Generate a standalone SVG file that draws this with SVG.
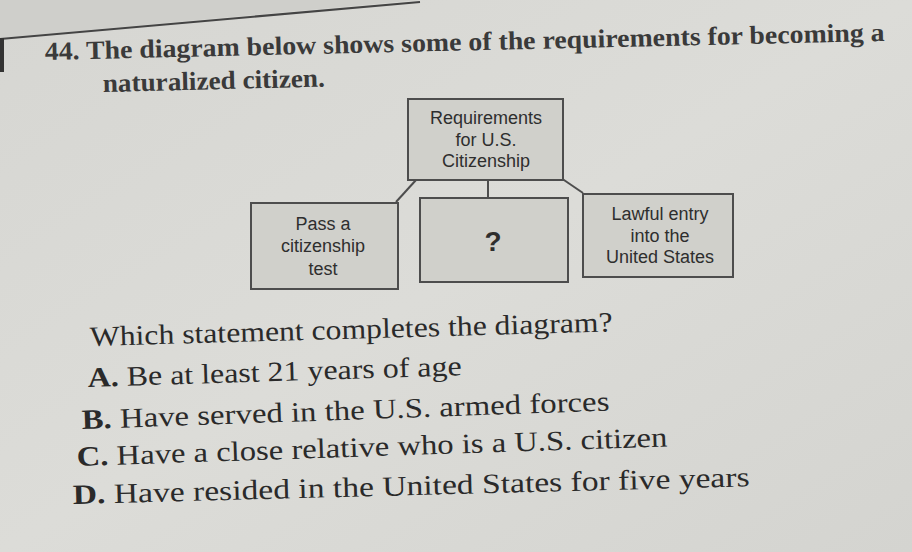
<svg xmlns="http://www.w3.org/2000/svg" width="912" height="552" viewBox="0 0 912 552">
<defs>
<linearGradient id="bg" x1="0" y1="0" x2="1" y2="1">
<stop offset="0" stop-color="#d6d6d2"/>
<stop offset="0.5" stop-color="#dcdcd8"/>
<stop offset="1" stop-color="#d4d4d0"/>
</linearGradient>
<style>
.q{font-family:"Liberation Serif","DejaVu Serif",serif;font-weight:bold;font-size:26px;fill:#3a3a3a}
.a{font-family:"Liberation Serif","DejaVu Serif",serif;font-size:28px;fill:#2a2a2a}
.lbl{font-family:"Liberation Sans","Open Sans",sans-serif;font-size:18px;fill:#2e2e2e;text-anchor:middle}
.box{fill:#d0d0cb;stroke:#4d4d4d;stroke-width:2}
.con{stroke:#4d4d4d;stroke-width:2;fill:none}
</style>
</defs>
<rect width="912" height="552" fill="url(#bg)"/>
<polygon points="0,0 420,0 0,38" fill="#cfcfcb"/>
<line x1="0" y1="39" x2="420" y2="2" stroke="#444" stroke-width="2"/>
<rect x="0" y="38" width="4" height="34" fill="#333"/>

<text class="q" x="45" y="60" textLength="840" lengthAdjust="spacingAndGlyphs" transform="rotate(-1.3 45 60)">44.  The diagram below shows some of the requirements for becoming a</text>
<text class="q" x="103" y="92" textLength="222" lengthAdjust="spacingAndGlyphs" transform="rotate(-1.4 103 92)">naturalized citizen.</text>

<g id="connectors">
<polyline class="con" points="416,180 396,202"/>
<line class="con" x1="488" y1="180" x2="488" y2="197"/>
<polyline class="con" points="561,178 583,193"/>
</g>

<g id="root">
<rect class="box" x="408" y="99" width="155" height="81"/>
<text class="lbl" x="486" y="124">Requirements</text>
<text class="lbl" x="486" y="145.5">for U.S.</text>
<text class="lbl" x="486" y="167">Citizenship</text>
</g>
<g id="test">
<rect class="box" x="251" y="203" width="147" height="86"/>
<text class="lbl" x="323" y="230">Pass a</text>
<text class="lbl" x="323" y="252">citizenship</text>
<text class="lbl" x="323" y="275">test</text>
</g>
<g id="unknown">
<rect class="box" x="420" y="198" width="148" height="84"/>
<text class="lbl" x="493" y="251" style="font-size:28px;font-weight:bold">?</text>
</g>
<g id="entry">
<rect class="box" x="583" y="194" width="150" height="83"/>
<text class="lbl" x="660" y="220">Lawful entry</text>
<text class="lbl" x="660" y="241.5">into the</text>
<text class="lbl" x="660" y="263">United States</text>
</g>

<text class="a" x="90" y="346" textLength="523" lengthAdjust="spacingAndGlyphs" transform="rotate(-1.6 90 346)">Which statement completes the diagram?</text>
<text class="a" x="88" y="387" textLength="374" lengthAdjust="spacingAndGlyphs" transform="rotate(-1.8 88 387)"><tspan font-weight="bold">A.</tspan>  Be at least 21 years of age</text>
<text class="a" x="82" y="429" textLength="528" lengthAdjust="spacingAndGlyphs" transform="rotate(-2 82 429)"><tspan font-weight="bold">B.</tspan>  Have served in the U.S. armed forces</text>
<text class="a" x="77" y="466" textLength="591" lengthAdjust="spacingAndGlyphs" transform="rotate(-1.9 77 466)"><tspan font-weight="bold">C.</tspan>  Have a close relative who is a U.S. citizen</text>
<text class="a" x="73" y="504" textLength="677" lengthAdjust="spacingAndGlyphs" transform="rotate(-1.5 73 504)"><tspan font-weight="bold">D.</tspan>  Have resided in the United States for five years</text>
</svg>
